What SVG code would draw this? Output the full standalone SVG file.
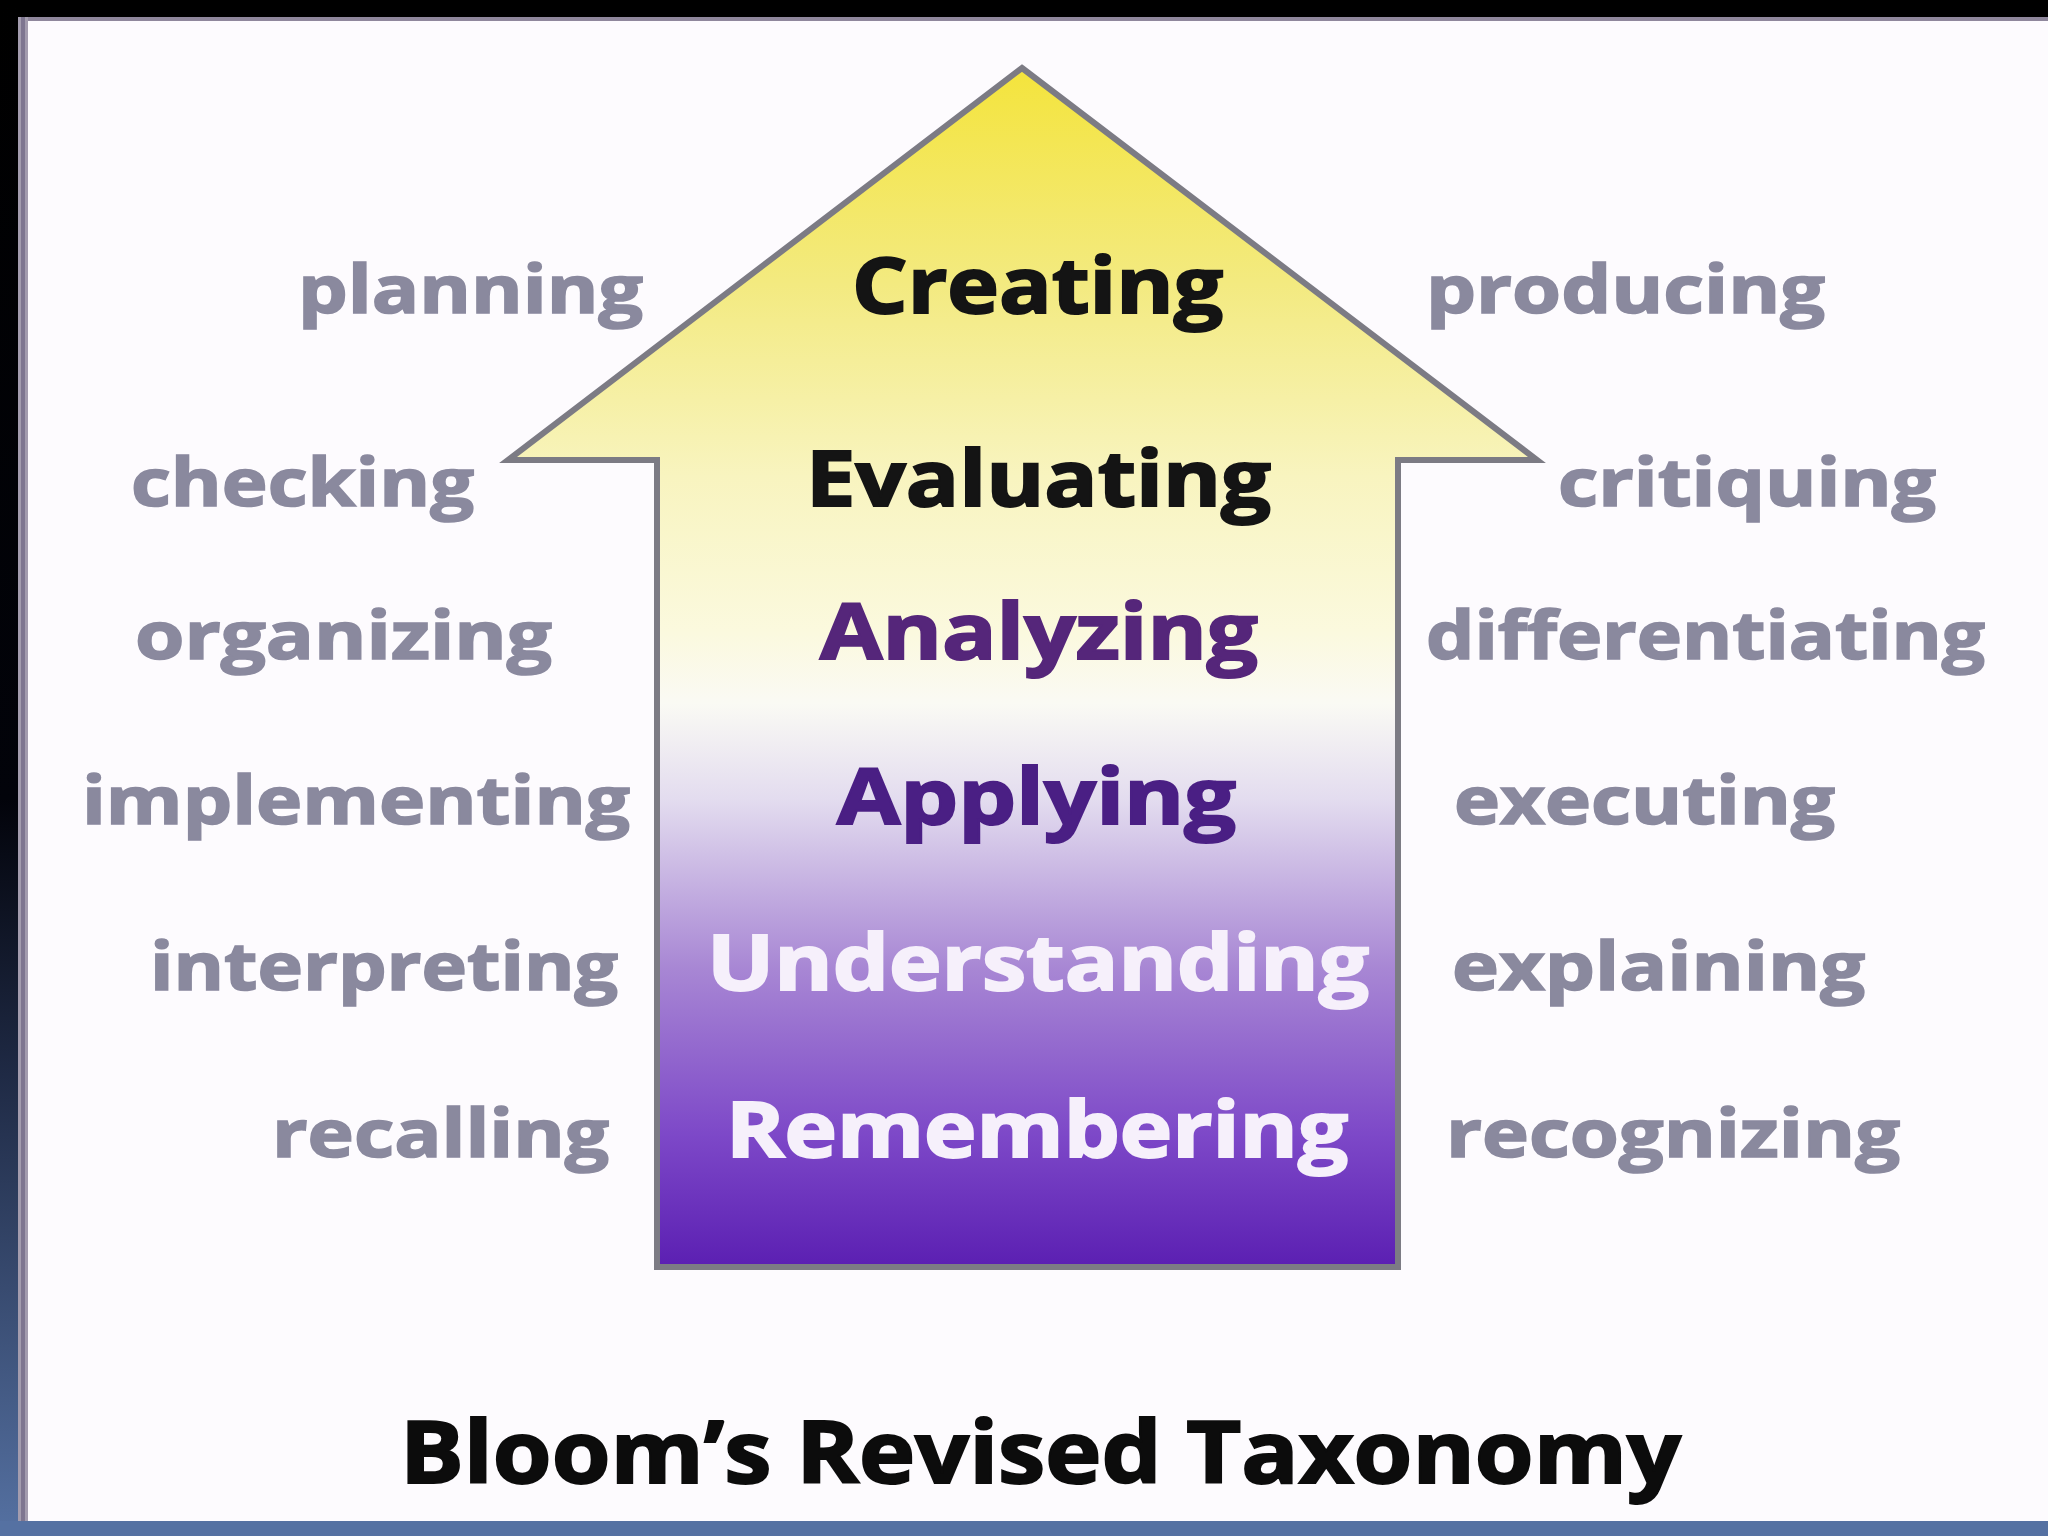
<svg xmlns="http://www.w3.org/2000/svg" width="2048" height="1536" viewBox="0 0 2048 1536">
  <defs>
    <linearGradient id="leftStrip" x1="0" y1="0" x2="0" y2="1536" gradientUnits="userSpaceOnUse">
      <stop offset="0" stop-color="#000000"/>
      <stop offset="0.52" stop-color="#02030a"/>
      <stop offset="0.7" stop-color="#1f2a45"/>
      <stop offset="1" stop-color="#5571a2"/>
    </linearGradient>
    <linearGradient id="arrowFill" x1="0" y1="68" x2="0" y2="1267" gradientUnits="userSpaceOnUse">
      <stop offset="0" stop-color="#f4e43c"/>
      <stop offset="0.18" stop-color="#f3ea80"/>
      <stop offset="0.34" stop-color="#f8f4bf"/>
      <stop offset="0.47" stop-color="#fbf9de"/>
      <stop offset="0.53" stop-color="#fafaf4"/>
      <stop offset="0.61" stop-color="#e3dcef"/>
      <stop offset="0.75" stop-color="#a887d4"/>
      <stop offset="0.89" stop-color="#7d48c8"/>
      <stop offset="1" stop-color="#5b1fb2"/>
    </linearGradient>
  </defs>
  <style>
    text { font-family: "Open Sans", "Liberation Sans", sans-serif; font-weight: 700; }
    .side { fill: #8a899e; stroke: #8a899e; stroke-width: 1.6px; font-size: 66px; }
    .main { font-size: 77px; stroke-width: 2px; }
    .dark { fill: #141414; stroke: #141414; }
    .purple { fill: #55267a; stroke: #55267a; }
    .purple2 { fill: #4a1f84; stroke: #4a1f84; }
    .light { fill: #f6f0fb; stroke: #f6f0fb; }
    .title { fill: #0c0c0c; stroke: #0c0c0c; stroke-width: 2px; font-size: 86px; }
  </style>

  <!-- frame -->
  <rect x="0" y="0" width="2048" height="1536" fill="#000000"/>
  <rect x="0" y="0" width="18" height="1536" fill="url(#leftStrip)"/>
  <rect x="18" y="17" width="2030" height="1504" fill="#fdfbfe"/>
  <rect x="18" y="17" width="2030" height="4" fill="#8f879c"/>
  <rect x="18" y="17" width="10" height="1504" fill="#a39cae"/>
  <rect x="21" y="17" width="4" height="1504" fill="#7e7690"/>
  <rect x="0" y="1521" width="2048" height="15" fill="#5571a2"/>

  <g id="arrow">
    <polygon points="1022,68 1537,460 1398,460 1398,1267 657,1267 657,460 508,460" fill="url(#arrowFill)" stroke="#7c7b84" stroke-width="6" stroke-linejoin="miter"/>
  </g>

  <g id="levels">
    <g id="creating"><text class="main dark" x="852" y="313" textLength="371" lengthAdjust="spacingAndGlyphs">Creating</text></g>
    <g id="evaluating"><text class="main dark" x="806" y="506" textLength="465" lengthAdjust="spacingAndGlyphs">Evaluating</text></g>
    <g id="analyzing"><text class="main purple" x="820" y="659" textLength="438" lengthAdjust="spacingAndGlyphs">Analyzing</text></g>
    <g id="applying"><text class="main purple2" x="837" y="824" textLength="399" lengthAdjust="spacingAndGlyphs">Applying</text></g>
    <g id="understanding"><text class="main light" x="707" y="990" textLength="662" lengthAdjust="spacingAndGlyphs">Understanding</text></g>
    <g id="remembering"><text class="main light" x="726" y="1157" textLength="622" lengthAdjust="spacingAndGlyphs">Remembering</text></g>
  </g>

  <g id="left-verbs">
    <g id="planning"><text class="side" x="298" y="313" textLength="345" lengthAdjust="spacingAndGlyphs">planning</text></g>
    <g id="checking"><text class="side" x="131" y="506" textLength="343" lengthAdjust="spacingAndGlyphs">checking</text></g>
    <g id="organizing"><text class="side" x="135" y="659" textLength="417" lengthAdjust="spacingAndGlyphs">organizing</text></g>
    <g id="implementing"><text class="side" x="82" y="824" textLength="548" lengthAdjust="spacingAndGlyphs">implementing</text></g>
    <g id="interpreting"><text class="side" x="150" y="990" textLength="468" lengthAdjust="spacingAndGlyphs">interpreting</text></g>
    <g id="recalling"><text class="side" x="272" y="1157" textLength="337" lengthAdjust="spacingAndGlyphs">recalling</text></g>
  </g>

  <g id="right-verbs">
    <g id="producing"><text class="side" x="1426" y="313" textLength="399" lengthAdjust="spacingAndGlyphs">producing</text></g>
    <g id="critiquing"><text class="side" x="1558" y="506" textLength="378" lengthAdjust="spacingAndGlyphs">critiquing</text></g>
    <g id="differentiating"><text class="side" x="1426" y="659" textLength="559" lengthAdjust="spacingAndGlyphs">differentiating</text></g>
    <g id="executing"><text class="side" x="1454" y="824" textLength="381" lengthAdjust="spacingAndGlyphs">executing</text></g>
    <g id="explaining"><text class="side" x="1452" y="990" textLength="413" lengthAdjust="spacingAndGlyphs">explaining</text></g>
    <g id="recognizing"><text class="side" x="1446" y="1157" textLength="454" lengthAdjust="spacingAndGlyphs">recognizing</text></g>
  </g>

  <g id="connectors"></g>

  <g id="caption">
    <text class="title" x="400" y="1483" textLength="1281" lengthAdjust="spacingAndGlyphs">Bloom’s Revised Taxonomy</text>
  </g>
</svg>
